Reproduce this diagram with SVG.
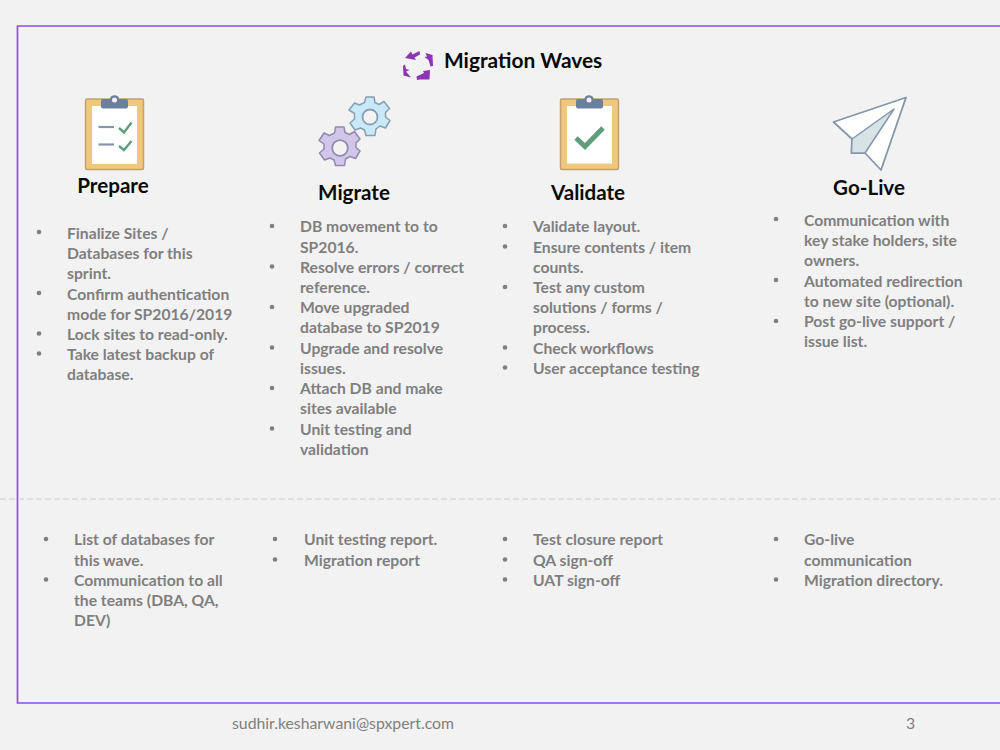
<svg xmlns="http://www.w3.org/2000/svg" width="1000" height="750" viewBox="0 0 1000 750">
<style>
text{font-family:"Lato","Liberation Sans",sans-serif}
.b{font-size:15.7px;font-weight:700;fill:#7f7f7f}
.d{font-size:15.7px;font-weight:700;fill:#7f7f7f}
.h{font-size:20.600px;font-weight:700;fill:#0a0a0a;text-anchor:middle}
.f{font-size:15.800px;fill:#7f7f7f}
.board{fill:#f0c77e;stroke:#c2a26a;stroke-width:1.500}
.paper{fill:#fff}
.clip{fill:#6b7f9f}
.chk{fill:none;stroke:#5f9e7c;stroke-width:2.400}
.ln{stroke:#8496aa;stroke-width:2.200}
.dots{fill:#7f7f7f}
</style>
<rect width="1000" height="750" fill="#f2f2f2"/>
<path d="M1000 26H17.500V703H1000" fill="none" stroke="#8a4fe6" stroke-width="1.700"/>
<line x1="0" y1="499" x2="1000" y2="499" stroke="#d9d9d9" stroke-width="1.300" stroke-dasharray="6 3"/>
<g id="title">
<g fill="#8c35b5">
<path d="M405 58L411 51.500L412.500 54.500L419.500 51L420 54.500L414.500 57.500L416 60Z"/>
<path d="M432.500 55L425.500 53L427 56.500L424.500 57L428.500 60L430.500 66.500L433 66Z"/>
<path d="M403 66L405 64.500L406 69L409.500 70L406 71.500L411 77.500L403.500 75.500Z"/>
<path d="M429.500 79.500L420 79.500L417 80L416.500 76.500L424 73L423 71L430 70Z"/>
</g>
<text x="444" y="67.500" style="font-size:20.900px;font-weight:700;fill:#0a0a0a">Migration Waves</text>
</g>
<g id="prepare">
<rect class="board" x="85.500" y="99" width="58" height="70.500" rx="1.500"/>
<rect class="paper" x="92" y="106" width="45" height="58"/>
<rect class="clip" x="101" y="99" width="27" height="9.500" rx="2"/>
<circle cx="114.500" cy="100" r="4.800" fill="#6b7f9f"/><circle cx="114.500" cy="100" r="2.500" fill="#f2f2f2"/>
<line class="ln" x1="98.500" y1="127" x2="114" y2="127"/>
<line class="ln" x1="98.500" y1="144.500" x2="114" y2="144.500"/>
<path class="chk" d="M119 128L124 132.500L131.500 122.500M119 146L124 150L131.500 141"/>
<text class="h" x="113" y="192.500">Prepare</text>
</g>
<g id="migrate">
<g stroke-linejoin="round" stroke-width="1.500">
<path fill="#c9e9f8" stroke="#85a0b0" d="M366 97H374L375 102.500L379 104.500L384 101.500L389.500 108.500L385.500 112.500V117L390 120.500L385.500 128L380 126L376 129L375 135.500H366L364.500 130L360.500 128L355 130L350 123L354.500 119V113.500L349 110L354.500 103L359.500 105L364.500 102.500Z"/>
<circle cx="370" cy="117" r="7.500" fill="#f2f2f2" stroke="#85a0b0" stroke-width="1.800"/>
<path fill="#d2c6e8" stroke="#8f8cb0" d="M335.500 127H344L345 132.500L349.500 134.500L354.500 131.500L360 139L356 143V147.500L360 151L355.500 158.500L350 156.500L345.500 159L344.500 165.500H335.500L334 160L330 158L324.500 160L319.500 153L324 149V144L319 140.500L324 133L329.500 135.500L334.500 133Z"/>
<circle cx="340" cy="148" r="7.800" fill="#f2f2f2" stroke="#8f8cb0" stroke-width="1.800"/>
</g>
<text class="h" x="354" y="199.500">Migrate</text>
</g>
<g id="validate">
<rect class="board" x="560.500" y="99" width="58" height="70.500" rx="1.500"/>
<rect class="paper" x="567" y="106" width="45" height="57.500"/>
<rect class="clip" x="576" y="99" width="27" height="9.500" rx="2"/>
<circle cx="589" cy="100" r="4.800" fill="#6b7f9f"/><circle cx="589" cy="100" r="2.500" fill="#f2f2f2"/>
<path d="M576 138L585 146.500L603 128" fill="none" stroke="#5f9e7c" stroke-width="5"/>
<text class="h" x="588" y="199.500">Validate</text>
</g>
<g id="go-live">
<path d="M906 97.500L833.500 122L852 139L851.500 153L865 153L881 170Z" fill="#fff" stroke="#8496aa" stroke-width="1.800" stroke-linejoin="round"/>
<path d="M852 139L894 109L865 153L851.500 153Z" fill="#d8e3e8" stroke="#8496aa" stroke-width="1.500" stroke-linejoin="round"/>
<text class="h" x="869" y="194.500">Go-Live</text>
</g>
<g id="prepare-list">
<g class="dots"><circle cx="39" cy="232" r="2.300"/><circle cx="39" cy="293" r="2.300"/><circle cx="39" cy="333.500" r="2.300"/><circle cx="39" cy="353.500" r="2.300"/></g>
<text class="b" x="67" y="238.500">Finalize Sites /</text>
<text class="b" x="67" y="259">Databases for this</text>
<text class="b" x="67" y="279">sprint.</text>
<text class="b" x="67" y="299.500">Confirm authentication</text>
<text class="b" x="67" y="319.500">mode for SP2016/2019</text>
<text class="b" x="67" y="340">Lock sites to read-only.</text>
<text class="b" x="67" y="360">Take latest backup of</text>
<text class="b" x="67" y="380">database.</text>
</g>
<g id="migrate-list">
<g class="dots"><circle cx="272" cy="226" r="2.300"/><circle cx="272" cy="266.500" r="2.300"/><circle cx="272" cy="307" r="2.300"/><circle cx="272" cy="347.500" r="2.300"/><circle cx="272" cy="388" r="2.300"/><circle cx="272" cy="428.500" r="2.300"/></g>
<text class="b" x="300" y="232">DB movement to to</text>
<text class="b" x="300" y="252.500">SP2016.</text>
<text class="b" x="300" y="272.500">Resolve errors / correct</text>
<text class="b" x="300" y="293">reference.</text>
<text class="b" x="300" y="313">Move upgraded</text>
<text class="b" x="300" y="333">database to SP2019</text>
<text class="b" x="300" y="353.500">Upgrade and resolve</text>
<text class="b" x="300" y="373.500">issues.</text>
<text class="b" x="300" y="394">Attach DB and make</text>
<text class="b" x="300" y="414">sites available</text>
<text class="b" x="300" y="434.500">Unit testing and</text>
<text class="b" x="300" y="454.500">validation</text>
</g>
<g id="validate-list">
<g class="dots"><circle cx="505" cy="226" r="2.300"/><circle cx="505" cy="246.500" r="2.300"/><circle cx="505" cy="287" r="2.300"/><circle cx="505" cy="347.500" r="2.300"/><circle cx="505" cy="367.500" r="2.300"/></g>
<text class="b" x="533" y="232">Validate layout.</text>
<text class="b" x="533" y="252.500">Ensure contents / item</text>
<text class="b" x="533" y="272.500">counts.</text>
<text class="b" x="533" y="293">Test any custom</text>
<text class="b" x="533" y="313">solutions / forms /</text>
<text class="b" x="533" y="333">process.</text>
<text class="b" x="533" y="353.500">Check workflows</text>
<text class="b" x="533" y="373.500">User acceptance testing</text>
</g>
<g id="golive-list">
<g class="dots"><circle cx="776" cy="219" r="2.300"/><circle cx="776" cy="280" r="2.300"/><circle cx="776" cy="321" r="2.300"/></g>
<text class="b" x="804" y="225.500">Communication with</text>
<text class="b" x="804" y="246">key stake holders, site</text>
<text class="b" x="804" y="266">owners.</text>
<text class="b" x="804" y="286.500">Automated redirection</text>
<text class="b" x="804" y="306.500">to new site (optional).</text>
<text class="b" x="804" y="327">Post go-live support /</text>
<text class="b" x="804" y="347">issue list.</text>
</g>
<g id="deliverables-1">
<g class="dots"><circle cx="46" cy="539" r="2.300"/><circle cx="46" cy="579.500" r="2.300"/></g>
<text class="d" x="74" y="545">List of databases for</text>
<text class="d" x="74" y="565.500">this wave.</text>
<text class="d" x="74" y="585.500">Communication to all</text>
<text class="d" x="74" y="606">the teams (DBA, QA,</text>
<text class="d" x="74" y="626">DEV)</text>
</g>
<g id="deliverables-2">
<g class="dots"><circle cx="275" cy="539" r="2.300"/><circle cx="275" cy="559.500" r="2.300"/></g>
<text class="d" x="304" y="545">Unit testing report.</text>
<text class="d" x="304" y="565.500">Migration report</text>
</g>
<g id="deliverables-3">
<g class="dots"><circle cx="505" cy="539" r="2.300"/><circle cx="505" cy="559.500" r="2.300"/><circle cx="505" cy="579.500" r="2.300"/></g>
<text class="d" x="533" y="545">Test closure report</text>
<text class="d" x="533" y="565.500">QA sign-off</text>
<text class="d" x="533" y="585.500">UAT sign-off</text>
</g>
<g id="deliverables-4">
<g class="dots"><circle cx="776" cy="539" r="2.300"/><circle cx="776" cy="579.500" r="2.300"/></g>
<text class="d" x="804" y="545">Go-live</text>
<text class="d" x="804" y="565.500">communication</text>
<text class="d" x="804" y="585.500">Migration directory.</text>
</g>
<g id="footer">
<text class="f" x="232" y="729">sudhir.kesharwani@spxpert.com</text>
<text class="f" x="906" y="729">3</text>
</g>
</svg>
